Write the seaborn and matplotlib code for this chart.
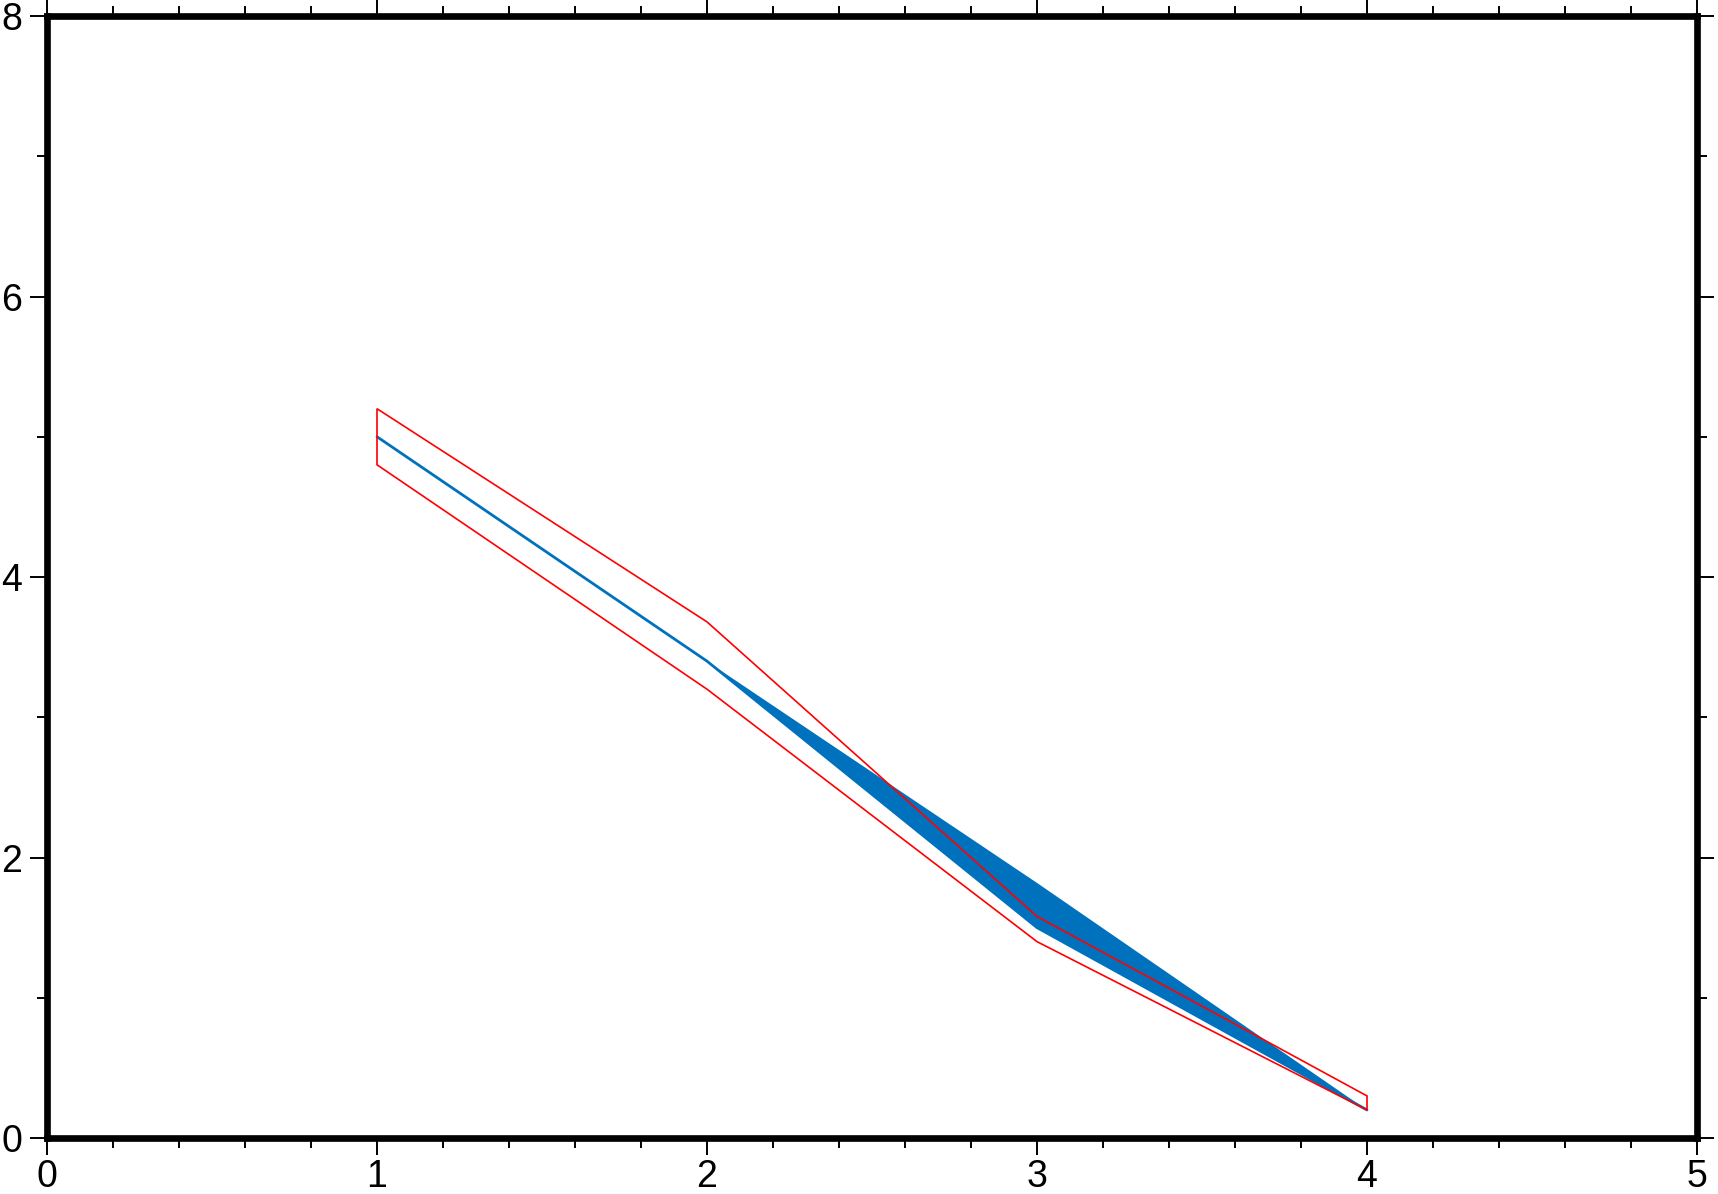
import numpy as np
import pandas as pd
import seaborn as sns
import matplotlib.pyplot as plt
from matplotlib.ticker import MultipleLocator

# main curve
x = [1, 2, 3, 4]
y = [5.0, 3.4, 1.5, 0.2]

# red envelope (upper / lower bounds)
env_upper = [5.2, 3.68, 1.58, 0.3]
env_lower = [4.8, 3.2, 1.4, 0.2]

# blue filled band from x=2 on
band_x = [2, 3, 4]
band_upper = [3.4, 1.82, 0.2]
band_lower = [3.4, 1.5, 0.2]

blue = '#0072BD'

sns.set_theme(style='ticks')
plt.rcParams['font.family'] = ['Liberation Sans', 'DejaVu Sans']

fig = plt.figure(figsize=(17.18, 11.94), dpi=100)
ax = fig.add_axes([0.02736, 0.0469, 0.96042, 0.9397])

ax.fill_between(band_x, band_lower, band_upper, color=blue, linewidth=0, zorder=2)

df = pd.DataFrame({'x': x, 'y': y})
sns.lineplot(data=df, x='x', y='y', ax=ax, color=blue, linewidth=2.0, zorder=3)

# envelope polygon outline
poly_x = x + x[::-1]
poly_y = env_upper + env_lower[::-1]
ax.fill(poly_x, poly_y, facecolor='none', edgecolor='red', linewidth=1.2, zorder=4)

ax.set_xlim(0, 5)
ax.set_ylim(0, 8)
ax.set_xlabel('')
ax.set_ylabel('')

ax.xaxis.set_major_locator(MultipleLocator(1))
ax.xaxis.set_minor_locator(MultipleLocator(0.2))
ax.yaxis.set_major_locator(MultipleLocator(2))
ax.yaxis.set_minor_locator(MultipleLocator(1))

ax.tick_params(which='both', direction='out', top=True, right=True, color='black')
ax.tick_params(which='major', length=12, width=1.4, labelsize=27, labelcolor='black')
ax.tick_params(axis='x', which='major', pad=3)
ax.tick_params(axis='y', which='major', pad=6)
ax.tick_params(which='minor', length=7, width=1.4)

for s in ax.spines.values():
    s.set_linewidth(4.8)
    s.set_color('black')
    s.set_capstyle('projecting')

fig.savefig('out.png', dpi=100)
